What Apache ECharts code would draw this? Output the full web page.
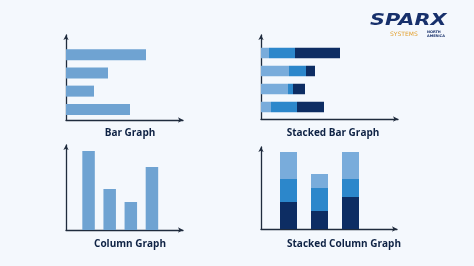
<!DOCTYPE html>
<html>
<head>
<meta charset="utf-8">
<script src="https://cdn.jsdelivr.net/npm/echarts@6/dist/echarts.min.js"></script>
<style>
  html, body { margin: 0; padding: 0; background: #f4f8fd; }
  #chart { width: 474px; height: 266px; }
</style>
</head>
<body>
<div id="chart"></div>
<script>
// values (units ~ px of axis length)
const barCats = ['A', 'B', 'C', 'D'];
const barValues = [80, 42, 28, 64];

const stackBarCats = ['A', 'B', 'C', 'D'];
const stackBarLight = [8, 28, 27, 10];
const stackBarMid = [26, 17, 5, 26];
const stackBarDark = [45, 9, 12, 27];

const colCats = ['A', 'B', 'C', 'D'];
const colValues = [79, 41, 28, 63];

const stackColCats = ['A', 'B', 'C'];
const stackColDark = [27, 18, 32];
const stackColMid = [23, 23, 18];
const stackColLight = [27, 14, 27];

const titles = ['Bar Graph', 'Stacked Bar Graph', 'Column Graph', 'Stacked Column Graph'];

const LIGHT = '#79acdb', MID = '#2c87cb', DARK = '#0d2d63', SINGLE = '#6fa3d2';
const AXIS = '#1f2b3d';

const myChart = echarts.init(document.getElementById('chart'));

// frame grids (axis lines with arrows) + data grids
const grids = [
  { left: 66, top: 35, width: 117, height: 85 },   // 0 frame bar
  { left: 261, top: 35, width: 137, height: 84 },  // 1 frame stacked bar
  { left: 66, top: 145, width: 117, height: 85 },  // 2 frame column
  { left: 261, top: 147, width: 136, height: 82 }, // 3 frame stacked column
  { left: 66, top: 45.5, width: 117, height: 73 }, // 4 data bar
  { left: 261, top: 44, width: 137, height: 72 },  // 5 data stacked bar
  { left: 78, top: 145, width: 84.5, height: 85 }, // 6 data column
  { left: 273, top: 147, width: 93, height: 82 }   // 7 data stacked column
];

const frameAxis = (gridIndex) => ({
  type: 'value', gridIndex: gridIndex, min: 0, max: 1,
  axisLine: { show: true, symbol: ['none', 'arrow'], symbolSize: [4, 5], lineStyle: { color: AXIS, width: 1.3 } },
  axisTick: { show: false }, axisLabel: { show: false }, splitLine: { show: false }
});
const hidden = { axisLine: { show: false }, axisTick: { show: false }, axisLabel: { show: false }, splitLine: { show: false } };

const xAxis = [0, 1, 2, 3].map(frameAxis).concat([
  Object.assign({ type: 'value', gridIndex: 4, min: 0, max: 117 }, hidden),
  Object.assign({ type: 'value', gridIndex: 5, min: 0, max: 137 }, hidden),
  Object.assign({ type: 'category', gridIndex: 6, data: colCats }, hidden),
  Object.assign({ type: 'category', gridIndex: 7, data: stackColCats }, hidden)
]);
const yAxis = [0, 1, 2, 3].map(frameAxis).concat([
  Object.assign({ type: 'category', gridIndex: 4, data: barCats, inverse: true }, hidden),
  Object.assign({ type: 'category', gridIndex: 5, data: stackBarCats, inverse: true }, hidden),
  Object.assign({ type: 'value', gridIndex: 6, min: 0, max: 85 }, hidden),
  Object.assign({ type: 'value', gridIndex: 7, min: 0, max: 82 }, hidden)
]);

const bar = (axis, data, color, width, stack) => ({
  type: 'bar', xAxisIndex: axis, yAxisIndex: axis, data: data, stack: stack,
  barWidth: width, itemStyle: { color: color }, silent: true
});

const titleStyle = { fontFamily: 'Open Sans', fontWeight: 'bold', fontSize: 10, color: '#0e2244' };

option = {
  backgroundColor: '#f4f8fd',
  animation: false,
  title: [
    { text: titles[0], left: 125, top: 123, textAlign: 'center', textStyle: titleStyle },
    { text: titles[1], left: 328, top: 123, textAlign: 'center', textStyle: titleStyle },
    { text: titles[2], left: 125, top: 234, textAlign: 'center', textStyle: titleStyle },
    { text: titles[3], left: 339, top: 234, textAlign: 'center', textStyle: titleStyle }
  ],
  grid: grids,
  xAxis: xAxis,
  yAxis: yAxis,
  series: [
    bar(4, barValues, SINGLE, 11),
    bar(5, stackBarLight, LIGHT, 10.5, 's1'),
    bar(5, stackBarMid, MID, 10.5, 's1'),
    bar(5, stackBarDark, DARK, 10.5, 's1'),
    bar(6, colValues, SINGLE, 12.5),
    bar(7, stackColDark, DARK, 17, 's2'),
    bar(7, stackColMid, MID, 17, 's2'),
    bar(7, stackColLight, LIGHT, 17, 's2')
  ],
  // logo
  graphic: [
    { type: 'text', x: 370, y: 13, scaleX: 1.3, style: { text: 'SPARX', fill: '#17306b', font: 'italic 900 16px "DejaVu Sans"' } },
    { type: 'text', x: 390, y: 31, style: { text: 'SYSTEMS', fill: '#e3a131', font: '500 6px "DejaVu Sans"' } },
    { type: 'text', x: 427, y: 30, style: { text: 'NORTH\nAMERICA', fill: '#17306b', font: 'bold 3.5px "DejaVu Sans"', lineHeight: 4 } }
  ]
};
myChart.setOption(option);
</script>
</body>
</html>
